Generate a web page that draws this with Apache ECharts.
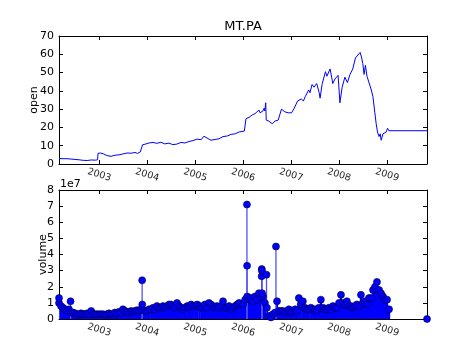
<!DOCTYPE html>
<html>
<head>
<meta charset="utf-8">
<script src="https://cdn.jsdelivr.net/npm/echarts@6/dist/echarts.min.js"></script>
<style>html,body{margin:0;padding:0;background:#fff}#c{width:474px;height:355px}</style>
</head>
<body>
<div id="c"></div>
<script>
// ---------------- data ----------------
const chartTitle = 'MT.PA';
const xRange = ['2002-03-01', '2009-11-01'];
const openTicks = [0, 10, 20, 30, 40, 50, 60, 70];
const volumeTicks = [0, 1, 2, 3, 4, 5, 6, 7, 8]; // x 1e7

const openDates = [
 '2002-03-01','2002-04-01','2002-05-01','2002-06-01','2002-07-01','2002-08-01','2002-09-01','2002-10-01','2002-11-01','2002-12-01','2002-12-20','2002-12-23',
 '2003-01-10','2003-02-01','2003-03-01','2003-04-01','2003-05-01','2003-06-01','2003-07-01','2003-08-01','2003-09-01','2003-10-01','2003-10-20','2003-11-10','2003-11-25','2003-11-27','2003-12-15',
 '2004-01-15','2004-02-15','2004-03-15','2004-04-15','2004-05-15','2004-06-15','2004-07-15','2004-08-15','2004-09-15','2004-10-15','2004-11-15','2004-12-15',
 '2005-01-15','2005-02-15','2005-03-08','2005-04-01','2005-05-01','2005-06-01','2005-07-01','2005-08-01','2005-09-01','2005-10-01','2005-11-01','2005-12-01',
 '2006-01-10','2006-01-20','2006-01-23','2006-02-15','2006-03-01','2006-03-15','2006-04-01','2006-04-15','2006-05-01','2006-05-10','2006-05-20','2006-06-01','2006-06-10','2006-06-15','2006-06-22','2006-06-26','2006-07-15','2006-08-10','2006-09-01','2006-09-25','2006-10-20','2006-11-01','2006-11-15','2006-12-10',
 '2007-01-05','2007-01-25','2007-02-20','2007-03-05','2007-03-20','2007-04-05','2007-04-20','2007-05-01','2007-05-15','2007-05-25','2007-06-10','2007-06-25','2007-07-15','2007-08-03','2007-08-10','2007-08-25','2007-09-20','2007-10-01','2007-10-10','2007-10-25','2007-11-15','2007-12-01','2007-12-25',
 '2008-01-08','2008-01-25','2008-02-15','2008-03-05','2008-03-25','2008-04-15','2008-05-05','2008-05-20','2008-06-10','2008-06-20','2008-06-30','2008-07-10','2008-07-20','2008-08-01','2008-08-15','2008-09-01','2008-09-15','2008-09-30','2008-10-10','2008-10-20','2008-11-01','2008-11-10','2008-11-17','2008-12-01','2008-12-15','2008-12-25',
 '2009-01-05','2009-01-15','2009-11-01'
];
const openValues = [
 3.0,2.9,2.9,2.7,2.5,2.3,2.0,1.9,2.2,2.1,2.3,5.8,
 6.0,5.6,4.6,4.2,4.8,5.0,5.5,6.0,5.9,6.3,5.8,6.6,7.2,10.5,10.8,
 11.5,11.8,11.3,11.9,11.0,11.4,10.6,10.9,11.8,11.5,12.3,12.8,
 13.6,13.3,15.2,14.2,13.0,13.4,13.8,15.0,15.3,16.2,16.5,17.5,
 18.0,18.5,24.8,25.5,26.5,27.0,27.5,28.0,29.5,28.0,28.5,29.0,30.5,29.0,33.5,24.0,23.5,22.0,23.5,24.0,30.0,29.0,28.5,28.0,
 28.0,30.5,34.5,33.5,35.5,34.5,37.0,38.0,40.5,39.0,43.5,42.0,44.0,39.0,36.0,43.5,50.5,48.0,49.0,52.0,44.0,46.5,48.5,
 33.5,42.0,47.5,44.5,49.0,52.0,58.0,59.0,61.0,58.5,55.0,49.0,54.0,48.0,47.5,41.0,37.0,28.0,22.0,17.5,15.0,16.5,13.0,16.5,16.0,17.5,
 19.5,18.2,18.2
];

// volume (millions), two readings per month (1st and 16th) starting 2002-03
const volumeStart = [2002, 3];
const volumeHalfMonth = [
 // 2002 Mar-Dec
 10,8, 7,6, 5,6, 4,4, 3.5,3, 3,3.5, 3,3, 3.5,3, 5,3, 3,3,
 // 2003
 3,3, 3,2.5, 3,3.5, 3,3, 4,3.5, 4.5,4, 6,5, 4.5,4, 5,4.5, 5,5.5, 5,6, 5.5,5,
 // 2004
 5,6, 6,7, 6,8, 7,7, 8,7.5, 8,9, 9,8, 7,10, 8,7, 6,7, 8,7.5, 9,8,
 // 2005
 8,9, 8,7, 8,9, 7,10, 9,8, 7,8, 7,8, 11,7, 7,8, 6,7, 8,9, 10,9,
 // 2006
 9,12, 14,12, 13,11, 14,12, 16,13, 14,10, 7,2, 1,3, 4,11, 5,5, 5,4, 5,6,
 // 2007
 4,5, 6,5, 13,9, 11,7, 6,6, 7,6, 6,5, 7,12, 7,6, 6,7, 6,8, 7,7,
 // 2008
 10,15, 10,9, 11,8, 8,7, 8,9, 8,15, 10,11, 9,13, 13,18, 20,23, 18,16, 14,12,
 // 2009 Jan
 12,6
];
// isolated spikes (millions)
const spikeDates  = ['2002-03-01','2002-05-28','2003-11-24','2003-11-25','2006-01-30','2006-01-31','2006-05-22','2006-05-23','2006-05-24','2006-05-25','2006-06-28','2006-09-08','2009-11-01'];
const spikeValues = [13, 11, 24, 9, 71, 33, 26.5, 31, 30, 16, 27.5, 45, 0];

// ---------------- build ----------------
const pad = n => (n < 10 ? '0' : '') + n;
const volumeGrid = [];
{
  let y = volumeStart[0], m = volumeStart[1];
  for (let i = 0; i < volumeHalfMonth.length; i += 2) {
    volumeGrid.push([y + '-' + pad(m) + '-01', volumeHalfMonth[i]]);
    if (i + 1 < volumeHalfMonth.length) volumeGrid.push([y + '-' + pad(m) + '-16', volumeHalfMonth[i + 1]]);
    m++; if (m > 12) { m = 1; y++; }
  }
}
const spikeData = spikeDates.map((d, i) => [d, spikeValues[i]]);
const openData = openDates.map((d, i) => [d, openValues[i]]);
const markerData = volumeGrid.concat(spikeData);

const FONT = 'DejaVu Sans';
const YEAR = 365 * 24 * 3600 * 1000;
const txt = { color: '#000', fontFamily: FONT, fontSize: 11 };

function xAxisDef(gridIndex, top) {
  return {
    type: 'time', gridIndex, position: top ? 'top' : 'bottom',
    min: xRange[0], max: xRange[1],
    minInterval: YEAR, maxInterval: YEAR * 1.01,
    axisLine: { show: true, onZero: false, lineStyle: { color: '#000', width: 1 } },
    axisTick: { show: true, inside: true, length: 4, lineStyle: { color: '#000' } },
    splitLine: { show: false },
    axisLabel: top ? { show: false } : {
      show: true, rotate: -17, margin: 11, align: 'center', verticalAlign: 'middle',
      showMinLabel: false, showMaxLabel: false,
      color: '#222', fontFamily: FONT, fontSize: 9.5,
      formatter: v => String(new Date(v).getFullYear())
    }
  };
}
function yAxisDef(gridIndex, right, max, name, fmt, nameGap) {
  return {
    type: 'value', gridIndex, position: right ? 'right' : 'left',
    min: 0, max, interval: 10,
    name: right ? '' : name, nameLocation: 'middle', nameGap, nameMoveOverlap: false,
    nameTextStyle: { color: '#000', fontFamily: FONT, fontSize: 11 },
    axisLine: { show: true, lineStyle: { color: '#000', width: 1 } },
    axisTick: { show: true, inside: true, length: 4, lineStyle: { color: '#000' } },
    splitLine: { show: false },
    axisLabel: right ? { show: false } : Object.assign({ margin: 5, formatter: fmt }, txt)
  };
}

const chart = echarts.init(document.getElementById('c'), null, { renderer: 'canvas' });
chart.setOption({
  animation: false,
  backgroundColor: '#fff',
  title: { text: chartTitle, left: 243, top: 20, padding: 0, textAlign: 'center',
           textStyle: { color: '#000', fontFamily: FONT, fontSize: 13, fontWeight: 'normal' } },
  graphic: [{ type: 'text', left: 60, top: 179,
              style: { text: '1e7', fill: '#000', font: '11px "DejaVu Sans"' } }],
  grid: [
    { left: 59, top: 36, width: 368, height: 128 },
    { left: 59, top: 190, width: 368, height: 129 }
  ],
  xAxis: [xAxisDef(0, false), xAxisDef(0, true), xAxisDef(1, false), xAxisDef(1, true)],
  yAxis: [
    yAxisDef(0, false, 70, 'open', v => String(v), 19),
    yAxisDef(0, true, 70, '', null, 0),
    yAxisDef(1, false, 80, 'volume', v => String(v / 10), 10),
    yAxisDef(1, true, 80, '', null, 0)
  ],
  series: [
    { type: 'line', xAxisIndex: 0, yAxisIndex: 0, data: openData, showSymbol: false,
      lineStyle: { color: '#0000ff', width: 1 }, itemStyle: { color: '#0000ff' } },
    { type: 'custom', xAxisIndex: 2, yAxisIndex: 2, data: volumeGrid, clip: true,
      renderItem: (p, api) => {
        const t = api.coord([api.value(0), api.value(1)]);
        const b = api.coord([api.value(0), 0]);
        return { type: 'line', shape: { x1: t[0], y1: t[1], x2: b[0], y2: b[1] },
                 style: { stroke: '#0000ff', lineWidth: 2.3 } };
      } },
    { type: 'custom', xAxisIndex: 2, yAxisIndex: 2, data: spikeData, clip: true,
      renderItem: (p, api) => {
        const t = api.coord([api.value(0), api.value(1)]);
        const b = api.coord([api.value(0), 0]);
        return { type: 'line', shape: { x1: t[0], y1: t[1], x2: b[0], y2: b[1] },
                 style: { stroke: '#5050ff', lineWidth: 1.3 } };
      } },
    { type: 'scatter', xAxisIndex: 2, yAxisIndex: 2, data: markerData, symbol: 'circle', symbolSize: 7, clip: true,
      itemStyle: { color: '#0000ff', borderColor: '#000040', borderWidth: 0.6, opacity: 1 } }
  ]
});
</script>
</body>
</html>
